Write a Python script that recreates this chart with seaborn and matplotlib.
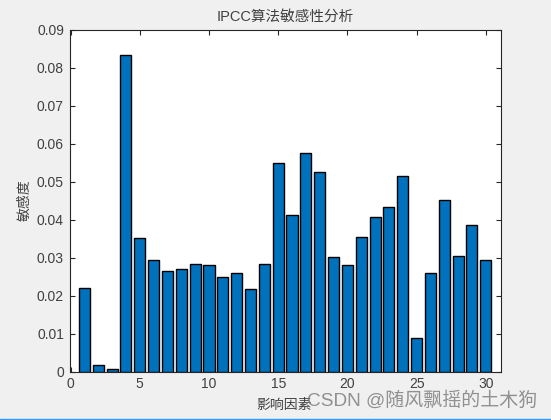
import pandas as pd
import matplotlib.pyplot as plt
import matplotlib.lines as mlines
import seaborn as sns

# ================= DATA =================
factors = list(range(1, 31))
sensitivity = [
    0.0221, 0.0018, 0.0007, 0.0833, 0.0352, 0.0294, 0.0265, 0.0270, 0.0283, 0.0281,
    0.0250, 0.0258, 0.0218, 0.0283, 0.0549, 0.0412, 0.0575, 0.0525, 0.0302, 0.0279,
    0.0354, 0.0407, 0.0433, 0.0515, 0.0089, 0.0258, 0.0452, 0.0304, 0.0386, 0.0294,
]
x_ticks = [0, 5, 10, 15, 20, 25, 30]
y_ticks = [0, 0.01, 0.02, 0.03, 0.04, 0.05, 0.06, 0.07, 0.08, 0.09]
y_labels = ["0", "0.01", "0.02", "0.03", "0.04", "0.05", "0.06", "0.07", "0.08", "0.09"]

df = pd.DataFrame({"factor": factors, "sensitivity": sensitivity})

# ================= STYLE =================
sns.set_theme(style="white")
plt.rcParams["font.family"] = ["Liberation Sans", "Noto Sans CJK SC"]
bg = "#F0F0F0"
ink = "#404040"

# ================= PLOT =================
fig = plt.figure(figsize=(5.51, 4.20), dpi=100, facecolor=bg)
ax = fig.add_axes([69.5 / 551, 1 - 371.5 / 420, 431.5 / 551, 342 / 420])

sns.barplot(data=df, x="factor", y="sensitivity", native_scale=True, width=0.8,
            color="#0072BD", saturation=1, edgecolor="black", linewidth=1.0, ax=ax)

ax.set_xlim(-0.08, 31.1)
ax.set_ylim(0, 0.09)
ax.set_xticks(x_ticks)
ax.set_yticks(y_ticks)
ax.set_yticklabels(y_labels)
ax.tick_params(direction="in", length=3.5, width=0.8, color="#262626", labelcolor=ink,
               labelsize=10, top=True, right=True, bottom=True, left=True, pad=4)
for s in ax.spines.values():
    s.set_visible(True)
    s.set_color("#262626")
    s.set_linewidth(0.8)
ax.set_xlabel("")
ax.set_ylabel("")

fig.text(285 / 551, 1 - 17 / 420, "IPCC算法敏感性分析", ha="center", va="center", fontsize=10.5, color=ink)
fig.text(284 / 551, 1 - 405 / 420, "影响因素", ha="center", va="center", fontsize=10, color=ink)
fig.text(25 / 551, 1 - 200 / 420, "敏感度", ha="center", va="center", rotation=90, fontsize=10, color=ink)

# CSDN watermark and the blue window edge at the bottom
fig.text(537 / 551, 1 - 401 / 420, "CSDN @随风飘摇的土木狗", ha="right", va="center",
         fontsize=13.7, color="#707070", alpha=0.75)
fig.add_artist(mlines.Line2D([0, 1], [1 - 418.5 / 420] * 2, color="#3399FF", lw=1))

fig.savefig("out.png", dpi=100, facecolor=bg)
plt.close(fig)
